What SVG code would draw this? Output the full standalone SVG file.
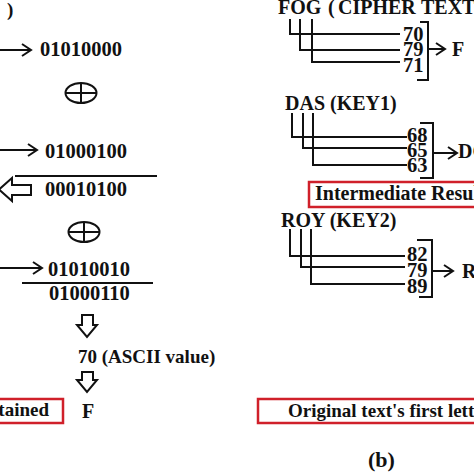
<svg xmlns="http://www.w3.org/2000/svg" width="474" height="474" viewBox="0 0 474 474">
<style>
text{font-family:"Liberation Serif","Times New Roman",serif;font-weight:bold;fill:#111}
.t{font-size:19px}
.h{font-size:20px}
.n{font-size:20.5px}
.ln{fill:none;stroke:#111;stroke-width:2}
.hol{fill:#fff;stroke:#111;stroke-width:2;stroke-linejoin:miter}
.red{fill:#fff;stroke:#d0202a;stroke-width:2.5}
</style>
<defs>
<marker id="ah" markerWidth="12" markerHeight="14" refX="10" refY="7" orient="auto" markerUnits="userSpaceOnUse">
<path d="M1,1 L10,7 L1,13" fill="none" stroke="#111" stroke-width="2"/>
</marker>
<g id="xor"><ellipse cx="0" cy="0" rx="15.5" ry="10" fill="none" stroke="#111" stroke-width="2"/><path d="M-15.5,0H15.5M0,-10V10" stroke="#111" stroke-width="2"/></g>
</defs>

<g id="connectors">
<line class="ln" x1="0" y1="50" x2="31" y2="50" marker-end="url(#ah)"/>
<line class="ln" x1="0" y1="150" x2="37" y2="150" marker-end="url(#ah)"/>
<line class="ln" x1="0" y1="268" x2="42" y2="268" marker-end="url(#ah)"/>
<line class="ln" x1="15" y1="176" x2="157" y2="176"/>
<line class="ln" x1="22" y1="283" x2="153" y2="283"/>
<path class="hol" d="M31,185 H12 V178 L-1,189.5 L12,201 V195 H31 Z"/>
<path class="hol" d="M82,315 H93 V325 H97 L87,337 L77,325 H82 Z"/>
<path class="hol" d="M82,372 H93 V380 H97 L87,392 L77,380 H82 Z"/>
<path class="ln" d="M290,19 V34 H400 M300,19 V50 H400 M312,19 V62 H400"/>
<path class="ln" d="M420,22 H428 V80 H417"/>
<line class="ln" x1="428" y1="49" x2="445" y2="49" marker-end="url(#ah)"/>
<path class="ln" d="M292,113 V137 H407 M303,113 V148 H407 M313,113 V165 H407"/>
<path class="ln" d="M420,123 H433 V178 H420"/>
<line class="ln" x1="433" y1="153" x2="457" y2="153" marker-end="url(#ah)"/>
<path class="ln" d="M290,229 V256 H405 M301,229 V267 H405 M311,229 V284 H405"/>
<path class="ln" d="M417,240 H432 V297 H419"/>
<line class="ln" x1="432" y1="271" x2="453" y2="271" marker-end="url(#ah)"/>
</g>

<g id="left">
<text class="t" x="7" y="16">)</text>
<text class="n" x="40" y="56">01010000</text>
<use href="#xor" x="81" y="93"/>
<text class="n" x="45" y="158">01000100</text>
<text class="n" x="45" y="196">00010100</text>
<use href="#xor" x="84" y="232"/>
<text class="n" x="48" y="276">01010010</text>
<text class="n" x="49" y="300">01000110</text>
<text class="t" x="78" y="363">70 (ASCII value)</text>
<text class="h" x="82" y="418">F</text>
</g>

<g id="obtained">
<rect class="red" x="-5" y="399" width="68" height="24"/>
<text class="t" x="49" y="416" text-anchor="end">tained</text>
</g>

<g id="fog">
<text class="h" x="278" y="14">FOG <tspan x="328">(</tspan><tspan x="338">CIPHER</tspan><tspan x="421">TEXT</tspan></text>
<text class="n" x="403" y="41">70</text>
<text class="n" x="403" y="56">79</text>
<text class="n" x="403" y="72">71</text>
<text class="h" x="452" y="56">F</text>
</g>

<g id="das">
<text class="h" x="285" y="110">DAS (KEY1)</text>
<text class="n" x="407" y="142">68</text>
<text class="n" x="407" y="157">65</text>
<text class="n" x="407" y="172">63</text>
<text class="h" x="458" y="158">DC</text>
</g>

<g id="intermediate">
<rect class="red" x="309" y="182" width="180" height="25"/>
<text class="h" x="315" y="200">Intermediate Result</text>
</g>

<g id="roy">
<text class="h" x="281" y="227">ROY (KEY2)</text>
<text class="n" x="407" y="261">82</text>
<text class="n" x="407" y="277">79</text>
<text class="n" x="407" y="293">89</text>
<text class="h" x="462" y="278">R</text>
</g>

<g id="original">
<rect class="red" x="258" y="399" width="230" height="24"/>
<text class="t" x="288" y="417">Original text's first letter</text>
</g>

<text x="368" y="467" style="font-size:22px">(b)</text>
</svg>
